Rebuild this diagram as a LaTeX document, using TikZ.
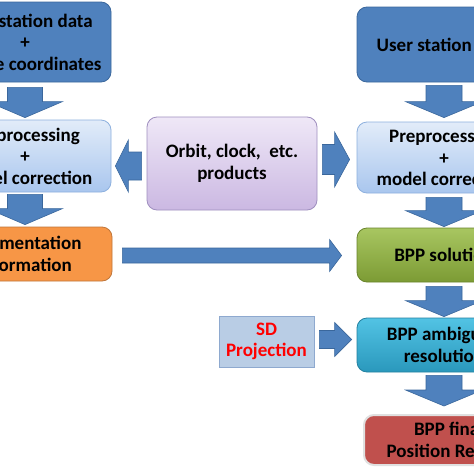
\documentclass[tikz,border=0pt]{standalone}
\usepackage{fontspec}
\setmainfont{Carlito}
\usetikzlibrary{calc}
\definecolor{officeBlue}{HTML}{4F81BD}
\definecolor{officeBlueDark}{HTML}{3A679C}
\definecolor{paleBlueTop}{HTML}{E2ECF9}
\definecolor{paleBlueBot}{HTML}{A9C6EE}
\definecolor{paleBlueLine}{HTML}{8DB0DE}
\definecolor{lilacTop}{HTML}{EFE8F7}
\definecolor{lilacBot}{HTML}{CBB8E2}
\definecolor{lilacLine}{HTML}{9F8FBF}
\definecolor{officeOrange}{HTML}{F79646}
\definecolor{officeOrangeDark}{HTML}{C0763A}
\definecolor{limeTop}{HTML}{A8C661}
\definecolor{limeBot}{HTML}{7C9B34}
\definecolor{cyanTop}{HTML}{52C3E4}
\definecolor{cyanBot}{HTML}{2A98BC}
\definecolor{officeRed}{HTML}{C0504D}
\definecolor{sdFill}{HTML}{B9CDE5}
\definecolor{sdLine}{HTML}{8EA9CF}
% fat block arrow: from, to, shaft half width, head half width, head length
\newcommand{\fatarrow}[5]{%
  \coordinate (fa-s) at (#1);
  \coordinate (fa-e) at (#2);
  \coordinate (fa-h) at ($(fa-e)!#5!(fa-s)$);
  \filldraw[fat] ($(fa-s)!#3!90:(fa-e)$) -- ($(fa-h)!#3!-90:(fa-s)$) -- ($(fa-h)!#4!-90:(fa-s)$) -- (fa-e)
    -- ($(fa-h)!#4!90:(fa-s)$) -- ($(fa-h)!#3!90:(fa-s)$) -- ($(fa-s)!#3!-90:(fa-e)$) -- cycle;}

\begin{document}
\begin{tikzpicture}[x=1pt, y=-1pt]
        \tikzstyle{box} = [rectangle, rounded corners=10pt, minimum width=172pt, text centered, align=center, inner sep=0pt, font=\fontsize{19}{21.5}\selectfont\bfseries, line width=0.8pt]
        \tikzstyle{fat} = [fill=officeBlue, draw=officeBlueDark, line width=0.6pt, line join=miter]

        \path[use as bounding box, fill=white] (0,0) rectangle (474,474);
        \clip (0,0) rectangle (474,474);

        % Base station side
        \node[box, fill=officeBlue, draw=officeBlueDark, minimum height=80pt] (refdata) at (25,42) {Base station data\\+\\Precise coordinates};
        \node[box, top color=paleBlueTop, bottom color=paleBlueBot, draw=paleBlueLine, minimum height=72pt] (leftpre) at (25,156) {Preprocessing\\+\\model correction};
        \node[box, fill=officeOrange, draw=officeOrangeDark, minimum width=174pt, minimum height=54pt] (augment) at (25,254) {Augmentation\\information};

        % Products
        \node[box, top color=lilacTop, bottom color=lilacBot, draw=lilacLine, minimum width=170pt, minimum height=93pt] (orbit) at (232,163.5) {Orbit, clock,\ \ etc.\\products};

        % User station side
        \node[box, fill=officeBlue, draw=officeBlueDark, minimum width=174pt, minimum height=75pt] (user) at (444,44.5) {User station data};
        \node[box, top color=paleBlueTop, bottom color=paleBlueBot, draw=paleBlueLine, minimum width=174pt, minimum height=71pt] (rightpre) at (444,157.5) {Preprocessing\\+\\model correction};
        \node[box, top color=limeTop, bottom color=limeBot, draw=limeBot!85!black, minimum width=174pt, minimum height=54pt] (bppsol) at (444,255) {BPP solution};
        \node[box, top color=cyanTop, bottom color=cyanBot, draw=cyanBot!85!black, minimum width=174pt, minimum height=54pt] (ambig) at (444,345) {BPP ambiguity\\resolution};
        \node[box, fill=officeRed, draw=black!12, line width=2pt, minimum width=170pt, minimum height=50pt] (final) at (449,440) {BPP final\\Position Results};

        % SD projection
        \node[box, rounded corners=0pt, fill=sdFill, draw=sdLine, text=red, minimum width=95pt, minimum height=51pt] (sd) at (266.5,341.5) {SD\\Projection};

        % left column
        \fatarrow{$(refdata.south)!5pt!(leftpre.north)$}{$(leftpre.north)!2pt!(refdata.south)$}{17.5pt}{37.5pt}{16pt}
        \fatarrow{$(leftpre.south)!2pt!(augment.north)$}{$(augment.north)!2pt!(leftpre.south)$}{17.5pt}{37.5pt}{16pt}

        % products to both sides
        \fatarrow{$(orbit.west)+(-5,2.5)$}{$(leftpre.east |- orbit.west)+(4,2.5)$}{14pt}{26pt}{13pt}
        \fatarrow{$(orbit.east)+(5,-4)$}{$(rightpre.west |- orbit.east)+(-7,-4)$}{15pt}{27.5pt}{15pt}
        \fatarrow{$(augment.east)+(10,1.5)$}{$(bppsol.west)+(-15,0.5)$}{7.5pt}{16pt}{12pt}
        \fatarrow{$(sd.east)+(5,-2)$}{$(ambig.west)+(-5,-5.5)$}{9pt}{17pt}{17pt}

        % right column
        \fatarrow{$(user.south)!3pt!(rightpre.north)$}{$(rightpre.north)!4pt!(user.south)$}{18pt}{38.5pt}{16pt}
        \fatarrow{$(rightpre.south)!4pt!(bppsol.north)$}{$(bppsol.north)!1pt!(rightpre.south)$}{18pt}{38.5pt}{16pt}
        \fatarrow{$(bppsol.south)!4pt!(ambig.north)$}{$(ambig.north)!1pt!(bppsol.south)$}{18pt}{38.5pt}{16pt}
        \fatarrow{$(ambig.south)!3pt!(ambig.south |- final.north)$}{$(ambig.south |- final.north)+(0,-8)$}{18pt}{38.5pt}{16pt}
    \end{tikzpicture}
\end{document}
